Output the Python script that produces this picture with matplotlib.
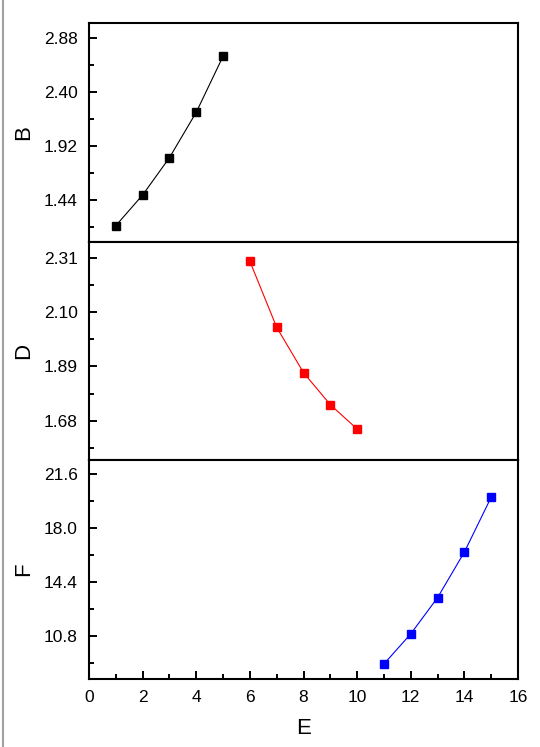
import numpy as np
import matplotlib
matplotlib.use('Agg')
import matplotlib.pyplot as plt
from matplotlib.lines import Line2D
from matplotlib.ticker import MultipleLocator, FixedLocator

plt.rcParams['font.family'] = ['Liberation Sans', 'DejaVu Sans']

# data
e_b = [1, 2, 3, 4, 5]
b_vals = [1.212, 1.484, 1.815, 2.218, 2.715]
e_d = [6, 7, 8, 9, 10]
d_vals = [2.296, 2.041, 1.866, 1.742, 1.648]
e_f = [11, 12, 13, 14, 15]
f_vals = [8.95, 10.95, 13.36, 16.39, 20.04]

b_ticks = [1.44, 1.92, 2.40, 2.88]
d_ticks = [1.68, 1.89, 2.10, 2.31]
f_ticks = [10.8, 14.4, 18.0, 21.6]

fig = plt.figure(figsize=(5.4, 7.47), dpi=100)
left, right = 89 / 540, 518 / 540
top, bottom = 1 - 23 / 747, 1 - 679 / 747
h = (top - bottom) / 3

panels = [
    (e_b, b_vals, 'black', 'B', b_ticks, 0.24, '%.2f', (1.07, 3.01)),
    (e_d, d_vals, 'red', 'D', d_ticks, 0.105, '%.2f', (1.527, 2.372)),
    (e_f, f_vals, 'blue', 'F', f_ticks, 1.8, '%.1f', (7.95, 22.49)),
]

axes = []
for i, (x, y, col, lab, ticks, minor, fmt, lim) in enumerate(panels):
    ax = fig.add_axes([left, top - (i + 1) * h, right - left, h])
    ax.plot(x, y, color=col, lw=0.8, marker='s', ms=6, mec=col, mfc=col)
    ax.set_xlim(0, 16)
    ax.set_ylim(*lim)
    ax.yaxis.set_major_locator(FixedLocator(ticks))
    ax.yaxis.set_minor_locator(MultipleLocator(minor))
    ax.set_yticklabels([fmt % t for t in ticks])
    ax.set_ylabel(lab, fontsize=16)
    ax.yaxis.set_label_coords(-0.128, 0.5)
    for s in ax.spines.values():
        s.set_linewidth(1.5)
    ax.tick_params(axis='y', which='major', direction='in', length=6, width=1.4,
                   labelsize=12.5, pad=8)
    ax.tick_params(axis='y', which='minor', direction='in', length=3.3, width=1.4)
    ax.tick_params(axis='x', which='both', bottom=False, labelbottom=False)
    axes.append(ax)

ax = axes[-1]
ax.xaxis.set_major_locator(MultipleLocator(2))
ax.xaxis.set_minor_locator(MultipleLocator(1))
ax.tick_params(axis='x', which='major', bottom=True, labelbottom=True, direction='in',
               length=6, width=1.4, labelsize=12.5, pad=8)
ax.tick_params(axis='x', which='minor', bottom=True, direction='in', length=3.3, width=1.4)
ax.set_xlabel('E', fontsize=16, labelpad=9)

# grey window edge at the left
fig.add_artist(Line2D([3 / 540, 3 / 540], [0, 1], color='#a0a0a0', lw=1.5,
                      transform=fig.transFigure))

fig.savefig('out.png', dpi=100)
